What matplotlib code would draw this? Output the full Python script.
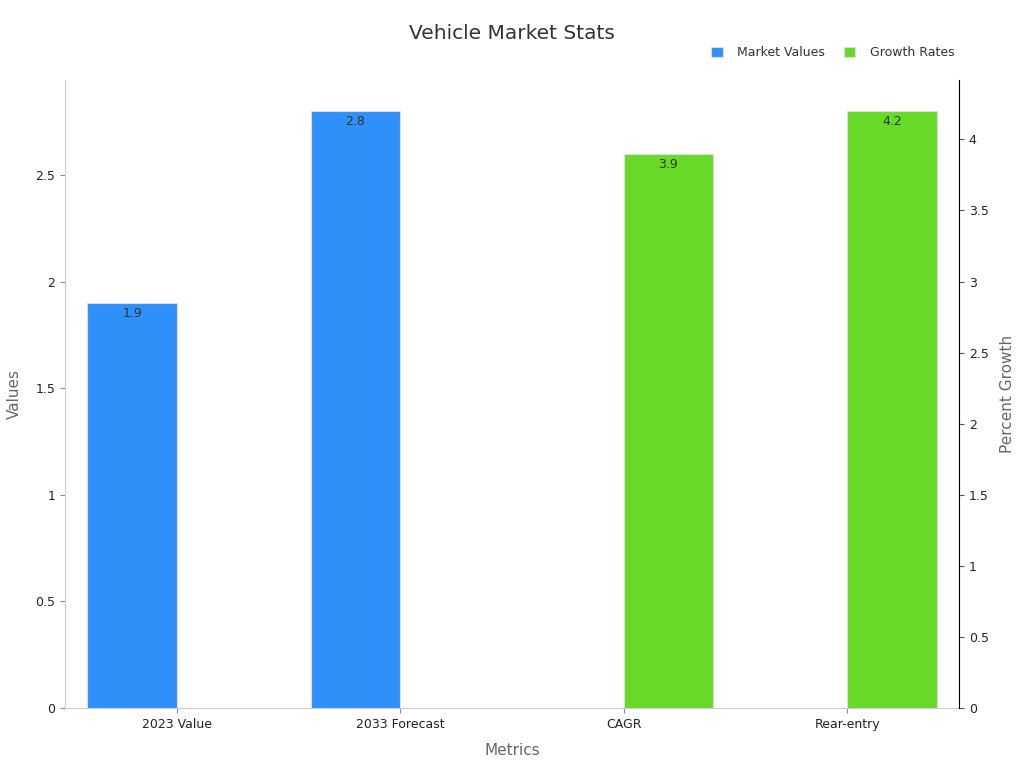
import numpy as np
import matplotlib.pyplot as plt

categories = ["2023 Value", "2033 Forecast", "CAGR", "Rear-entry"]
market_values = [1.9, 2.8, None, None]
growth_rates = [None, None, 3.9, 4.2]

blue = "#2E90F8"
green = "#66DA26"

fig = plt.figure(figsize=(10.24, 7.68), dpi=100)
ax = fig.add_axes([0.0635, 0.078, 0.873, 0.818])
ax2 = ax.twinx()

x = np.arange(len(categories))
w = 0.4

mv_x = [i for i, v in enumerate(market_values) if v is not None]
mv_y = [v for v in market_values if v is not None]
gr_x = [i for i, v in enumerate(growth_rates) if v is not None]
gr_y = [v for v in growth_rates if v is not None]

b1 = ax.bar(np.array(mv_x) - w / 2, mv_y, w, color=blue, edgecolor="#dddddd",
            linewidth=0.8, label="Market Values")
b2 = ax2.bar(np.array(gr_x) + w / 2, gr_y, w, color=green, edgecolor="#dddddd",
             linewidth=0.8, label="Growth Rates")

for bars, a in [(b1, ax), (b2, ax2)]:
    for r in bars:
        a.annotate(f"{r.get_height():g}", (r.get_x() + r.get_width() / 2, r.get_height()),
                   xytext=(0, -3), textcoords="offset points", ha="center", va="top",
                   fontsize=9, color="#333333")

ax.set_xlim(-0.5, 3.5)
ax.set_ylim(0, max(mv_y) * 1.052)
ax2.set_ylim(0, max(gr_y) * 1.052)
ax.set_xticks(x)
ax.set_xticklabels(categories)
ax.set_yticks(np.arange(0, 2.6, 0.5))
ax.set_yticklabels(["0", "0.5", "1", "1.5", "2", "2.5"])
ax2.set_yticks(np.arange(0, 4.1, 0.5))
ax2.set_yticklabels(["0", "0.5", "1", "1.5", "2", "2.5", "3", "3.5", "4"])

for a in (ax, ax2):
    a.spines["top"].set_visible(False)
    a.tick_params(labelsize=9, colors="#222222")
ax.spines["left"].set_color("#cccccc")
ax.spines["bottom"].set_color("#cccccc")
ax.spines["right"].set_visible(False)
ax2.spines["left"].set_visible(False)
ax2.spines["bottom"].set_visible(False)
ax2.spines["right"].set_color("black")
ax.tick_params(axis="both", color="#888888")
ax2.tick_params(axis="y", color="#555555")

ax.set_xlabel("Metrics", fontsize=11, color="#666666", labelpad=9)
ax.set_ylabel("Values", fontsize=11, color="#666666", labelpad=10)
ax2.set_ylabel("Percent Growth", fontsize=11, color="#666666", labelpad=8)

fig.text(0.5, 0.957, "Vehicle Market Stats", ha="center", va="center", fontsize=14.5, color="#333333")
leg = fig.legend(handles=[b1, b2], loc="center right", bbox_to_anchor=(0.943, 0.931), ncol=2,
                 frameon=False, fontsize=9, handlelength=0.9, handleheight=0.9,
                 handletextpad=1.15, columnspacing=1.55)
for t in leg.get_texts():
    t.set_color("#333333")

fig.savefig("out.png", dpi=100)
